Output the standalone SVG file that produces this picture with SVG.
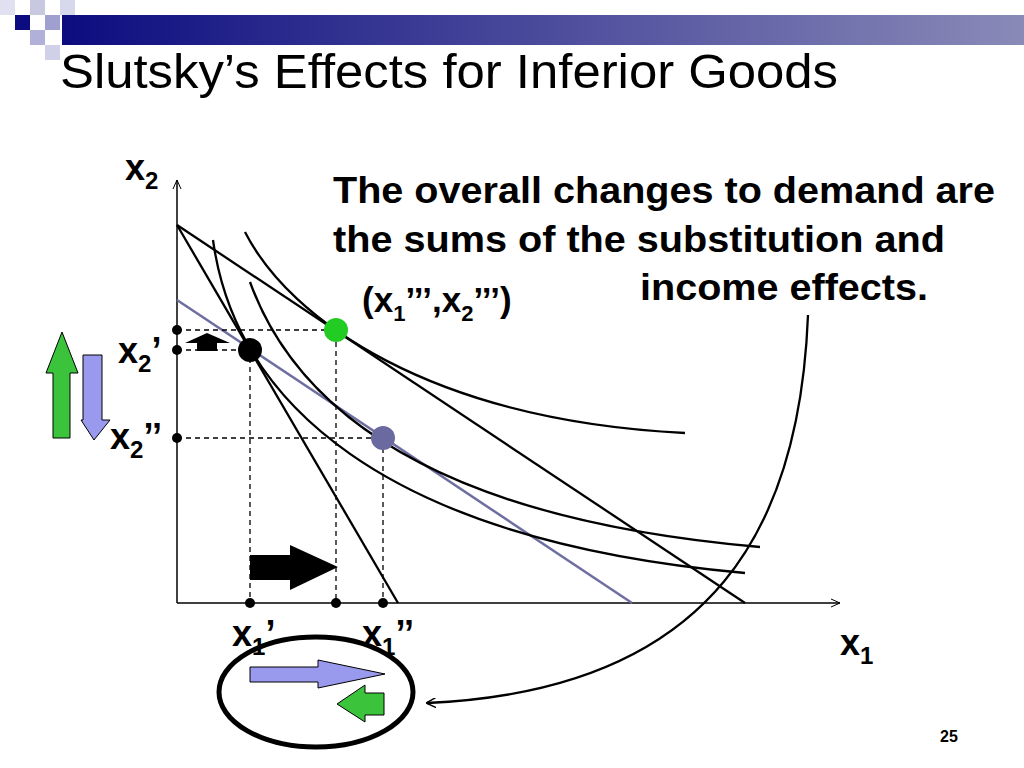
<svg xmlns="http://www.w3.org/2000/svg" width="1024" height="768" viewBox="0 0 1024 768">
<defs>
<linearGradient id="g" x1="0" x2="1"><stop offset="0" stop-color="#0c0c80"/><stop offset="1" stop-color="#8a8ab8"/></linearGradient>
<marker id="ah" markerWidth="10" markerHeight="10" refX="9" refY="5" orient="auto" markerUnits="userSpaceOnUse"><path d="M0,0 L10,5 L0,10" fill="none" stroke="#000" stroke-width="1.5"/></marker>
<marker id="ax" markerWidth="10" markerHeight="10" refX="9" refY="5" orient="auto" markerUnits="userSpaceOnUse"><path d="M0,1 L9,5 L0,9" fill="none" stroke="#000" stroke-width="1"/></marker>
</defs>
<style>
.t{font-family:"Liberation Sans",Arial,sans-serif;fill:#000}
.b{font-weight:bold}
.c{fill:none;stroke:#000;stroke-width:2.3}
.d{stroke:#000;stroke-width:1.3;stroke-dasharray:5,4;fill:none}
</style>
<rect width="1024" height="768" fill="#fff"/>
<g id="header">
<rect x="62" y="15" width="962" height="30" fill="url(#g)"/>
<rect x="15" y="15" width="15" height="15" fill="#0c0c80"/>
<rect x="30" y="0" width="15" height="15" fill="#c8c8e0"/>
<rect x="45" y="15" width="15" height="15" fill="#a0a0d0"/>
<rect x="30" y="30" width="15" height="15" fill="#b0b0d8"/>
<rect x="0" y="0" width="15" height="15" fill="#e0e0f0"/>
<rect x="45" y="45" width="15" height="15" fill="#d0d0e8"/>
<rect x="60" y="0" width="15" height="15" fill="#d8d8ec"/>
</g>
<text class="t" x="60" y="88" font-size="48" textLength="778" lengthAdjust="spacingAndGlyphs">Slutsky’s Effects for Inferior Goods</text>
<g id="axes">
<line x1="177" y1="603" x2="177" y2="180" stroke="#000" stroke-width="1.5" marker-end="url(#ax)"/>
<line x1="177" y1="603" x2="840" y2="603" stroke="#000" stroke-width="1.5" marker-end="url(#ax)"/>
</g>
<g id="connectors">
<line x1="177" y1="225" x2="398" y2="603" class="c"/>
<line x1="177" y1="225" x2="745" y2="603" class="c"/>
<line x1="177" y1="300" x2="632" y2="603" stroke="#6e6ea0" stroke-width="2.5"/>
<path class="c" d="M213,240 C235,400 380,540 745,573"/>
<path class="c" d="M250,282 C300,420 450,520 760,547"/>
<path class="c" d="M245,232 C290,320 430,420 685,433"/>
<path class="d" d="M177,330 H336 V603 M177,350 H250 V603 M177,438 H383 V603"/>
<path class="c" d="M808,315 C800,520 720,690 427,703" stroke-width="2" marker-end="url(#ah)"/>
</g>
<g id="points">
<circle cx="177" cy="330" r="5"/><circle cx="177" cy="350" r="5"/><circle cx="177" cy="438" r="5"/>
<circle cx="250" cy="603" r="5"/><circle cx="336" cy="603" r="5"/><circle cx="383" cy="603" r="5"/>
<circle cx="250" cy="350" r="12"/>
<circle cx="336" cy="330" r="12" fill="#22cc22"/>
<circle cx="383" cy="438" r="12" fill="#6a6aa0"/>
</g>
<g id="arrows">
<path d="M197,351 V343 H185 L207,333 L230,343 H217 V351 Z"/>
<path d="M250,555 H290 V545 L338,567 L290,590 V580 H250 Z"/>
<path d="M53,438 V373 H46 L62,332 L78,373 H70 V438 Z" fill="#3cc33c" stroke="#000"/>
<path d="M83,355 H102 V420 H110 L94,440 L81,420 H83 Z" fill="#9999ee" stroke="#000"/>
</g>
<g id="ellipse">
<ellipse cx="316" cy="692" rx="97" ry="55" fill="none" stroke="#000" stroke-width="5"/>
<path d="M250,667 H318 V660 L385,674 L318,688 V682 H250 Z" fill="#9999ee" stroke="#000"/>
<path d="M384,693 V715 H365 V722 L337,704 L365,685 V693 Z" fill="#3cc33c" stroke="#000"/>
</g>
<g id="labels">
<text class="t b" x="333" y="203" font-size="37" textLength="662" lengthAdjust="spacingAndGlyphs">The overall changes to demand are</text>
<text class="t b" x="333" y="252" font-size="37" textLength="612" lengthAdjust="spacingAndGlyphs">the sums of the substitution and</text>
<text class="t b" x="640" y="300" font-size="37" textLength="288" lengthAdjust="spacingAndGlyphs">income effects.</text>
<text class="t b" x="362" y="312" font-size="35">(x<tspan font-size="22" dy="9">1</tspan><tspan dy="-9">’’’,x</tspan><tspan font-size="22" dy="9">2</tspan><tspan dy="-9">’’’)</tspan></text>
<text class="t b" x="125" y="180" font-size="36">x<tspan font-size="24" dy="9">2</tspan></text>
<text class="t b" x="118" y="363" font-size="36">x<tspan font-size="24" dy="9">2</tspan><tspan dy="-9">’</tspan></text>
<text class="t b" x="110" y="449" font-size="36">x<tspan font-size="24" dy="9">2</tspan><tspan dy="-9">’’</tspan></text>
<text class="t b" x="232" y="646" font-size="36">x<tspan font-size="24" dy="9">1</tspan><tspan dy="-9">’</tspan></text>
<text class="t b" x="362" y="646" font-size="36">x<tspan font-size="24" dy="9">1</tspan><tspan dy="-9">’’</tspan></text>
<text class="t b" x="840" y="655" font-size="36">x<tspan font-size="24" dy="9">1</tspan></text>
<text class="t b" x="940" y="742" font-size="16">25</text>
</g>
</svg>
